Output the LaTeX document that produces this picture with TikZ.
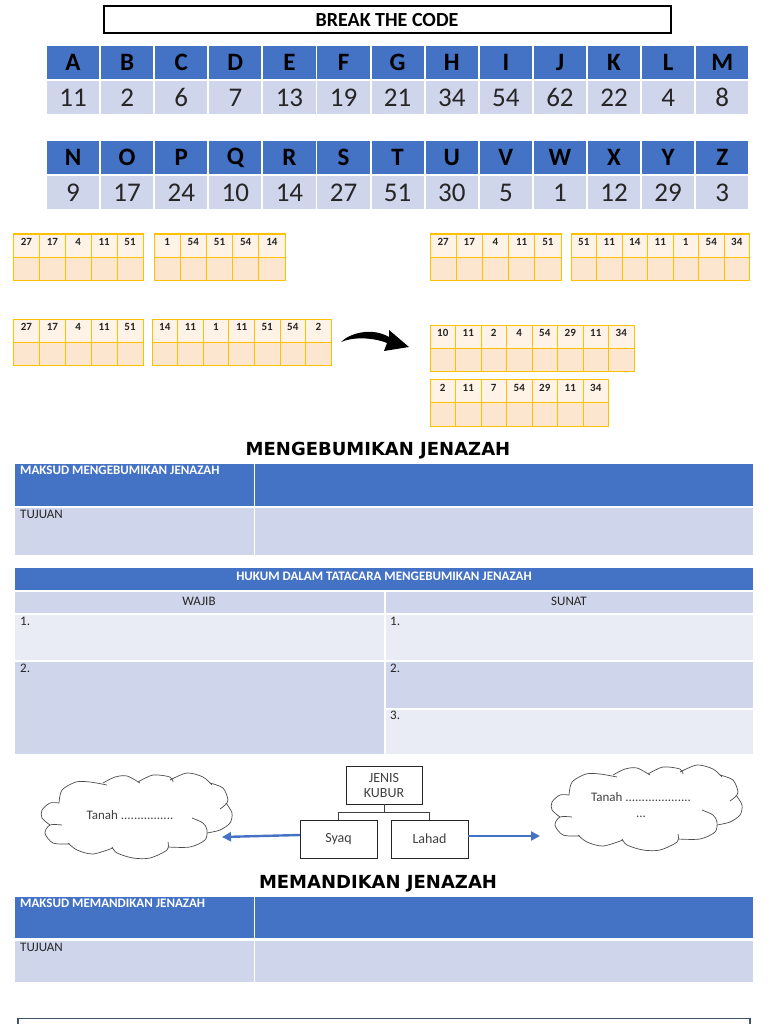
\documentclass[tikz,border=0pt]{standalone}
\usepackage{fontspec}
\setmainfont{Carlito}
\newfontfamily\headfont{DejaVu Sans}
\definecolor{hdblue}{HTML}{4472C4}
\definecolor{rowdark}{HTML}{CFD5EA}
\definecolor{rowlight}{HTML}{E9EBF5}
\definecolor{ansline}{HTML}{FFC000}
\definecolor{anstop}{HTML}{FFF2E6}
\definecolor{ansbot}{HTML}{FDE6CF}
\definecolor{boxline}{HTML}{44546A}
\tikzset{
    cell/.style={anchor=north west, minimum width=#1, inner sep=0pt, outer sep=0pt},
    alpha/.style={font=\fontsize{25}{25}\selectfont\bfseries, fill=hdblue, minimum height=33pt, text=black, inner sep=0pt, outer sep=0pt},
    codenum/.style={font=\fontsize{27}{27}\selectfont, fill=rowdark, minimum height=33pt, text=black!85, inner sep=0pt, outer sep=0pt},
    ansnum/.style={font=\fontsize{11}{11}\selectfont\bfseries, text=black!85, inner sep=0pt},
    bluecell/.style={fill=hdblue},
    darkcell/.style={fill=rowdark},
    lightcell/.style={fill=rowlight},
    celltext/.style={font=\fontsize{13}{13}\selectfont, anchor=north west, inner sep=0pt, text=black!85},
    headtext/.style={font=\fontsize{18}{18}\selectfont\headfont\bfseries},
    treebox/.style={draw=black!85, fill=white, inner sep=0pt, font=\fontsize{14}{15}\selectfont, align=center, text=black!75},
    treeline/.style={draw=black!75, line width=.7pt},
    bluearrow/.style={-{Triangle[length=9pt,width=9pt]}, draw=hdblue, line width=2.4pt},
    puff/.style={draw=black!70, line width=.7pt},
}
\usetikzlibrary{arrows.meta}
% answer grid: #1 left, #2 top, #3 cell width, #4 name, #5 numbers
\newcommand{\ansgrid}[5]{
    \foreach \num [count=\i] in {#5} {
        \path[fill=anstop] (#1+\i*#3-#3, #2) rectangle (#1+\i*#3, #2+23);
        \path[fill=ansbot] (#1+\i*#3-#3, #2+23) rectangle (#1+\i*#3, #2+46.5);
        \draw[ansline, line width=1pt] (#1+\i*#3-#3, #2) rectangle (#1+\i*#3, #2+46.5);
        \draw[ansline, line width=1pt] (#1+\i*#3-#3, #2+23) -- (#1+\i*#3, #2+23);
        \node[ansnum] (#4-\i) at (#1+\i*#3-#3/2, #2+8) {\num};
    }
}
\newcommand{\cloudshape}{
    \draw[puff] plot[smooth] coordinates {(59,803) (62,790) (76,782) (90,782) (107,785)};
    \draw[puff] plot[smooth] coordinates {(103,783) (115,777) (127,776) (140,783)};
    \draw[puff] plot[smooth] coordinates {(138,782) (153,775) (170,777) (173,782)};
    \draw[puff] plot[smooth] coordinates {(170,780) (187,773) (203,777) (212,785)};
    \draw[puff] plot[smooth] coordinates {(210,783) (223,788) (228,800) (225,805) (220,809)};
    \draw[puff] plot[smooth] coordinates {(226,803) (232,813) (230,823) (220,830) (207,833)};
    \draw[puff] plot[smooth] coordinates {(192,818) (203,823) (207,830) (205,840) (190,847) (168,847)};
    \draw[puff] plot[smooth] coordinates {(168,842) (167,850) (150,858) (133,858) (117,853) (112,847)};
    \draw[puff] plot[smooth] coordinates {(113,848) (93,854) (77,850) (68,843)};
    \draw[puff] plot[smooth] coordinates {(70,844) (53,843) (45,833) (50,825) (62,825)};
    \draw[puff] plot[smooth] coordinates {(50,825) (42,818) (42,810) (50,803) (59,803)};
}
\begin{document}
\begin{tikzpicture}[x=1pt, y=-1pt]
    \useasboundingbox[fill=white] (0,0) rectangle (768,1024);
    % title
    \node[draw=black, line width=2pt, minimum width=567pt, minimum height=27pt, inner sep=0pt, font=\fontsize{20}{20}\selectfont\bfseries] (title) at (387,20) {BREAK THE CODE};
    % code tables
    \foreach \letter/\code [count=\i] in {A/11,B/2,C/6,D/7,E/13,F/19,G/21,H/34,I/54,J/62,K/22,L/4,M/8} {
        \node[alpha, minimum width=52.2pt] (top-\letter) at (46+\i*54.1-27.05, 62.5) {\letter};
        \node[codenum, minimum width=52.2pt] (num-\letter) at (46+\i*54.1-27.05, 97.5) {\code};
    }
    \foreach \letter/\code [count=\i] in {N/9,O/17,P/24,Q/10,R/14,S/27,T/51,U/30,V/5,W/1,X/12,Y/29,Z/3} {
        \node[alpha, minimum width=52.2pt] (top-\letter) at (46+\i*54.1-27.05, 157.5) {\letter};
        \node[codenum, minimum width=52.2pt] (num-\letter) at (46+\i*54.1-27.05, 192.5) {\code};
    }
    % answer grids
    \ansgrid{13.5}{234}{25.9}{aa}{27,17,4,11,51}
    \ansgrid{154}{234}{26.2}{ab}{1,54,51,54,14}
    \ansgrid{430}{234}{26.2}{ac}{27,17,4,11,51}
    \ansgrid{571}{234}{25.5}{ad}{51,11,14,11,1,54,34}
    \ansgrid{13.5}{319}{25.9}{ae}{27,17,4,11,51}
    \ansgrid{152}{319}{25.6}{af}{14,11,1,11,51,54,2}
    \ansgrid{430}{325}{25.5}{ag}{10,11,2,4,54,29,11,34}
    \ansgrid{430}{379.5}{25.5}{ah}{2,11,7,54,29,11,34}
    % curved arrow
    \fill[black] (341,342) .. controls (350,333) and (372,327) .. (389,337) -- (389,330) -- (409,347) -- (384,351) -- (387,343) .. controls (372,337) and (352,337) .. (341,342) -- cycle;
    % mengebumikan
    \node[headtext] (head-a) at (378,451) {MENGEBUMIKAN JENAZAH};
    \fill[bluecell] (15,464) rectangle (253.5,506);
    \fill[bluecell] (255,464) rectangle (753,506);
    \fill[darkcell] (15,508) rectangle (253.5,555);
    \fill[darkcell] (255,508) rectangle (753,555);
    \node[celltext, text=white, font=\fontsize{13}{13}\selectfont\bfseries] (maksud-a) at (20,466) {MAKSUD MENGEBUMIKAN JENAZAH};
    \node[celltext] (tujuan-a) at (20,510) {TUJUAN};
    % hukum
    \fill[bluecell] (15,568) rectangle (753,590);
    \node[font=\fontsize{13}{13}\selectfont\bfseries, text=white, inner sep=0pt] (hukum) at (384,576) {HUKUM DALAM TATACARA MENGEBUMIKAN JENAZAH};
    \fill[darkcell] (15,592) rectangle (384,613);
    \fill[darkcell] (385.5,592) rectangle (753,613);
    \node[font=\fontsize{13}{13}\selectfont, text=black!85, inner sep=0pt] (wajib) at (199,601) {WAJIB};
    \node[font=\fontsize{13}{13}\selectfont, text=black!85, inner sep=0pt] (sunat) at (569,601) {SUNAT};
    \fill[lightcell] (15,615) rectangle (384,660);
    \fill[lightcell] (385.5,615) rectangle (753,660);
    \fill[darkcell] (15,662) rectangle (384,754);
    \fill[darkcell] (385.5,662) rectangle (753,708);
    \fill[lightcell] (385.5,710) rectangle (753,754);
    \node[celltext] (wajib-a) at (20,617) {1.};
    \node[celltext] (sunat-a) at (390,617) {1.};
    \node[celltext] (wajib-b) at (20,664) {2.};
    \node[celltext] (sunat-b) at (390,664) {2.};
    \node[celltext] (sunat-c) at (390,711) {3.};
    % jenis kubur
    \node[treebox, minimum width=76pt, minimum height=38pt] (jenis) at (384,785) {JENIS\\KUBUR};
    \node[treebox, minimum width=77pt, minimum height=38pt] (syaq) at (338.5,839) {Syaq};
    \node[treebox, minimum width=77pt, minimum height=38pt] (lahad) at (429.5,839) {Lahad};
    \draw[treeline] (jenis.south) -- ++(0,8) coordinate (fork);
    \draw[treeline] (syaq.north) |- (fork) -| (lahad.north);
    \coordinate (leftend) at (222,837);
    \coordinate (rightend) at (540,836);
    \draw[bluearrow] (syaq.west |- 0,835) -- (leftend);
    \draw[bluearrow] (lahad.east |- 0,836) -- (rightend);
    % clouds
    \cloudshape
    \begin{scope}[shift={(510,-8)}]
        \cloudshape
    \end{scope}
    \node[font=\fontsize{13}{13}\selectfont, text=black!75, inner sep=0pt] (tanah-a) at (130,815) {Tanah ................};
    \node[font=\fontsize{13}{16}\selectfont, text=black!75, inner sep=0pt, align=center] (tanah-b) at (641,805) {Tanah ....................\\...};
    % memandikan
    \node[headtext] (head-b) at (378,884) {MEMANDIKAN JENAZAH};
    \fill[bluecell] (15,897) rectangle (253.5,938);
    \fill[bluecell] (255,897) rectangle (753,938);
    \fill[darkcell] (15,941) rectangle (253.5,982);
    \fill[darkcell] (255,941) rectangle (753,982);
    \node[celltext, text=white, font=\fontsize{13}{13}\selectfont\bfseries] (maksud-b) at (20,899) {MAKSUD MEMANDIKAN JENAZAH};
    \node[celltext] (tujuan-b) at (20,943) {TUJUAN};
    % bottom box
    \draw[boxline, line width=1.2pt] (18,1030) -- (18,1018.5) -- (750,1018.5) -- (750,1030);
\end{tikzpicture}
\end{document}
